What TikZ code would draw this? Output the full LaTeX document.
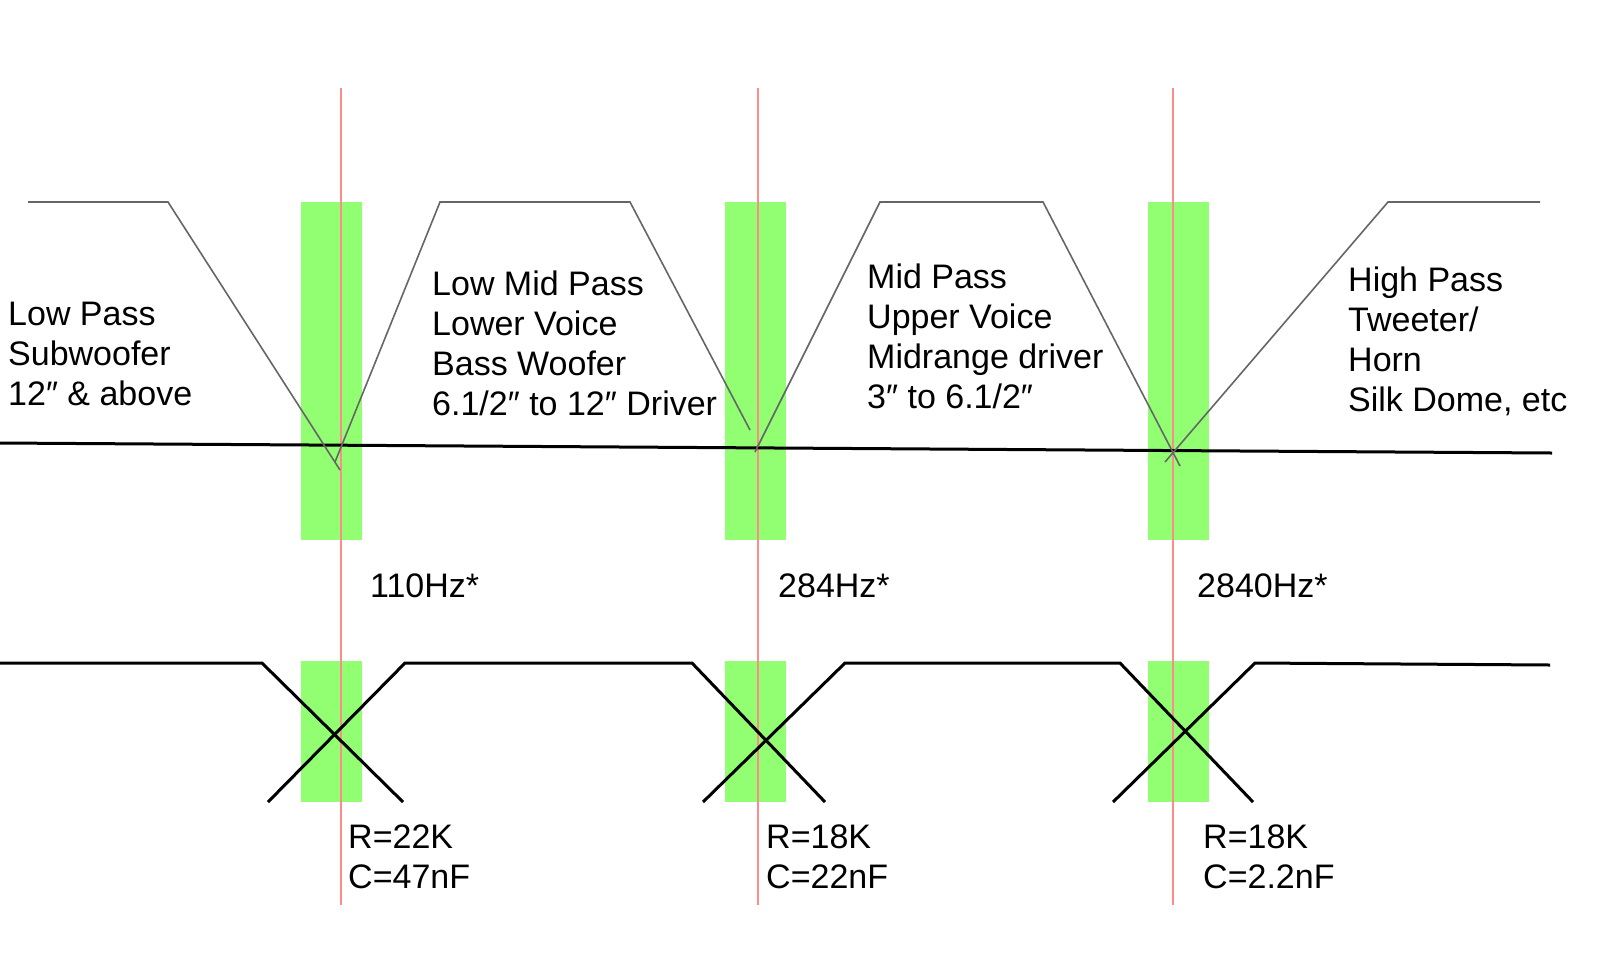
\documentclass[tikz,border=0pt]{standalone}
\usepackage{fontspec}
\setmainfont{Liberation Sans}
\newcommand{\qq}{″}
\begin{document}
\begin{tikzpicture}[x=1pt,y=-1pt,
 lbl/.style={anchor=north west,align=left,inner sep=0pt,font=\fontsize{34}{40}\selectfont},
 gbar/.style={fill=green!70!lime,opacity=0.55,draw=none},
 rline/.style={draw=red!45,line width=2pt},
 gray/.style={draw=gray!80!black,line width=1.6pt},
 blk/.style={draw=black,line width=3pt}]
\useasboundingbox (0,0) rectangle (1600,962);
\foreach \x in {301,725,1148}{
 \fill[gbar] (\x,202) rectangle ++(61,338);
 \fill[gbar] (\x,661) rectangle ++(61,141);}
\foreach \x in {341,758,1173}{ \draw[rline] (\x,88) -- (\x,905);}
\draw[blk] (0,443) -- (1552,453);
\draw[gray] (28,202) -- (168,202) -- (340,470);
\draw[gray] (335,462) -- (440,202) -- (630,202) -- (750,430);
\draw[gray] (755,452) -- (880,202) -- (1043,202) -- (1180,466);
\draw[gray] (1165,462) -- (1388,202) -- (1540,202);
\draw[blk] (0,663) -- (262,663) -- (403,802);
\draw[blk] (268,802) -- (405,663) -- (692,663) -- (825,802);
\draw[blk] (703,802) -- (845,663) -- (1120,663) -- (1253,802);
\draw[blk] (1113,802) -- (1255,663) -- (1550,665);
\node[lbl] (lp) at (8,302) {Low Pass\\Subwoofer\\12\qq{} \& above};
\node[lbl] (lmp) at (432,271) {Low Mid Pass\\Lower Voice\\Bass Woofer\\6.1/2\qq{} to 12\qq{} Driver};
\node[lbl] (mp) at (867,264) {Mid Pass\\Upper Voice\\Midrange driver\\3\qq{} to 6.1/2\qq};
\node[lbl] (hp) at (1348,267) {High Pass\\Tweeter/\\Horn\\Silk Dome, etc};
\node[lbl] (f1) at (370,574) {110Hz*};
\node[lbl] (f2) at (778,574) {284Hz*};
\node[lbl] (f3) at (1197,574) {2840Hz*};
\node[lbl] (c1) at (348,825) {R=22K\\C=47nF};
\node[lbl] (c2) at (766,825) {R=18K\\C=22nF};
\node[lbl] (c3) at (1203,825) {R=18K\\C=2.2nF};
\end{tikzpicture}
\end{document}
